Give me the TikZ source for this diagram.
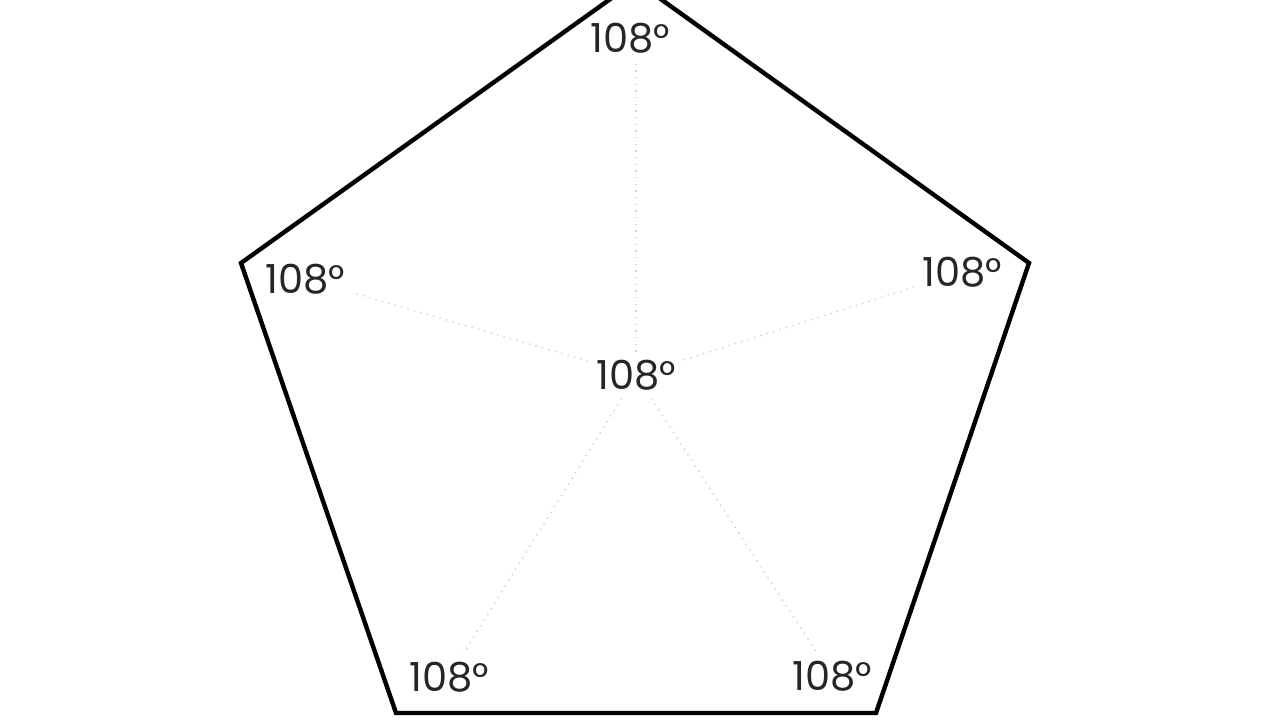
\documentclass[tikz,border=0pt]{standalone}
\usepackage{fontspec}
\setmainfont{Poppins}
\begin{document}
\begin{tikzpicture}[x=0.75pt,y=-0.75pt,
  edge/.style={line width=3.3pt,line join=miter},
  ang/.style={font=\fontsize{30}{33}\selectfont,text=black!85,inner sep=6pt},
  guide/.style={draw=black!18,line width=1.1pt,dash pattern=on 1pt off 4pt}]
\useasboundingbox (0,0) rectangle (1280,720);
\fill[white] (0,0) rectangle (1280,720);
\coordinate (T) at (635.5,-19);
\coordinate (L) at (241,263);
\coordinate (R) at (1029,263);
\coordinate (BL) at (396,713);
\coordinate (BR) at (876,713);
\node[ang] (c) at (636,375) {108°};
\node[ang] (t) at (630,38) {108°};
\node[ang] (l) at (305,279) {108°};
\node[ang] (r) at (962,272) {108°};
\node[ang] (bl) at (449,677) {108°};
\node[ang] (br) at (832,676) {108°};
\coordinate (tb) at (t.south -| c);
\draw[guide] (c) -- (tb);
\draw[guide] (c) -- (l);
\draw[guide] (c) -- (r);
\draw[guide] (c) -- (bl);
\draw[guide] (c) -- (br);
\draw[edge] (T) -- (R) -- (BR) -- (BL) -- (L) -- cycle;
\end{tikzpicture}
\end{document}
